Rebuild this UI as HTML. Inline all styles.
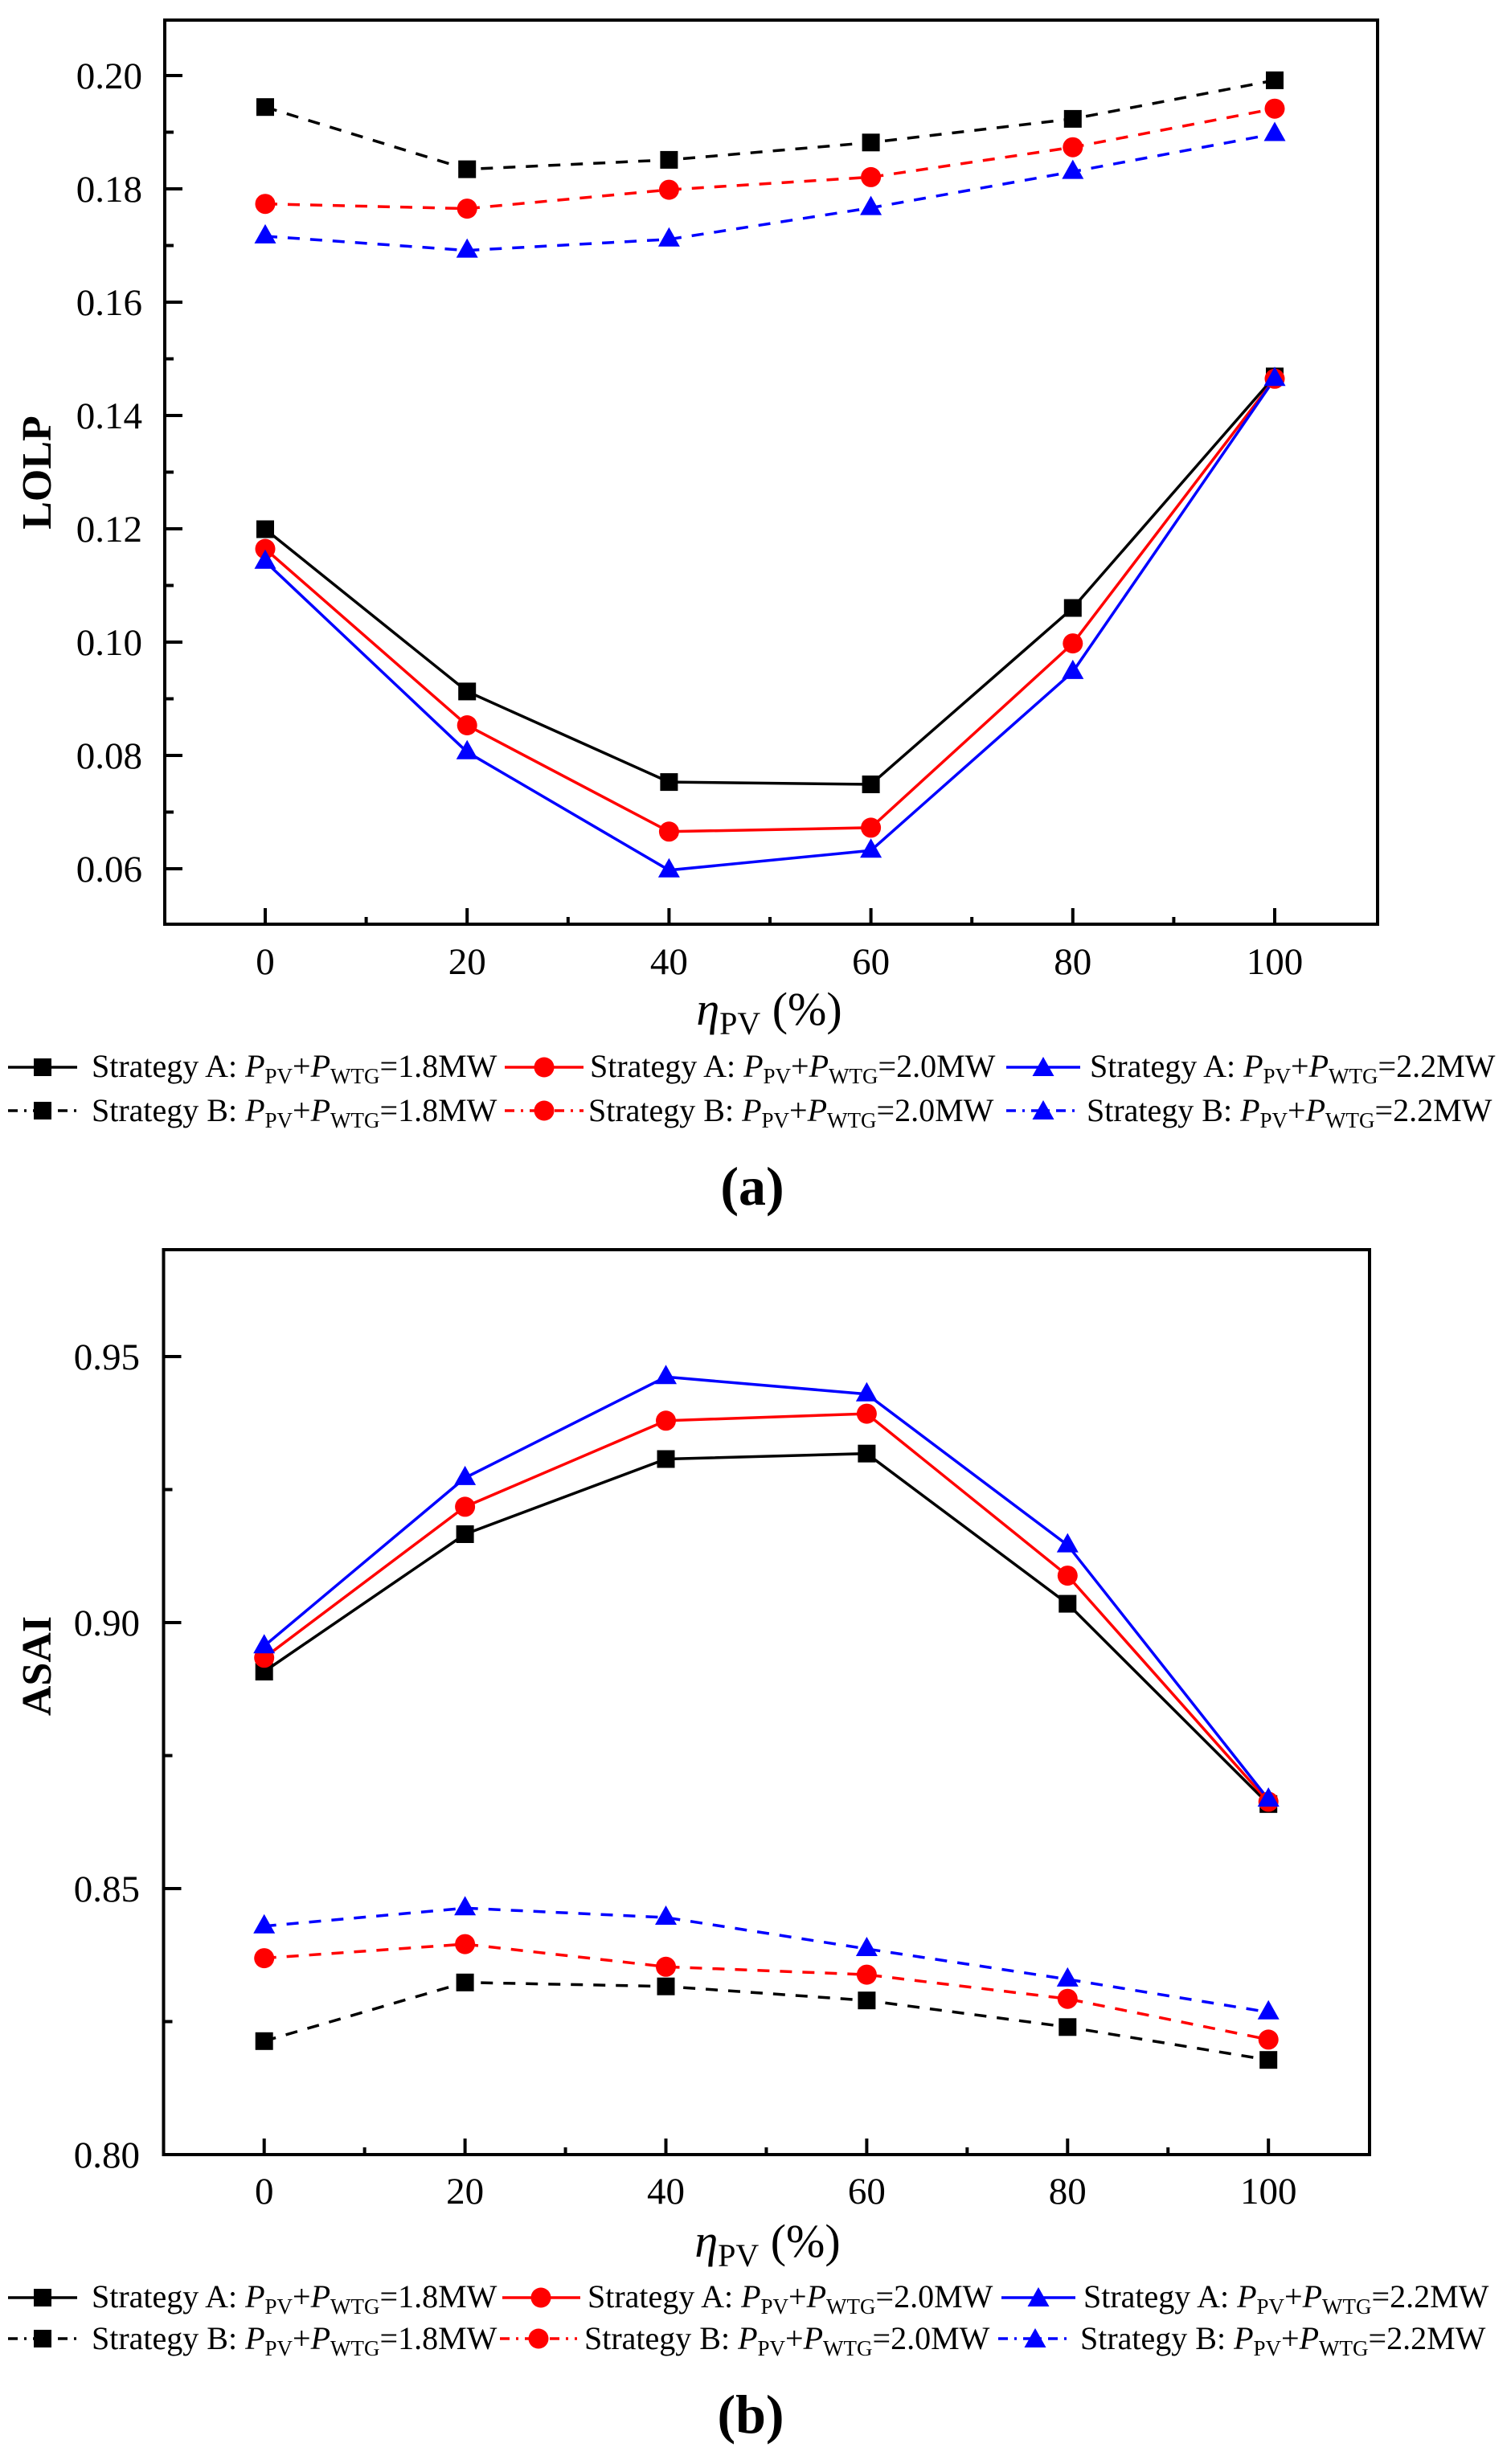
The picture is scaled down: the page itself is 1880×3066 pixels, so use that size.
<!DOCTYPE html>
<html><head><meta charset="utf-8"><style>
html,body{margin:0;padding:0;background:#fff;}
svg{display:block;font-family:"Liberation Serif",serif;}
</style></head><body>
<svg width="1880" height="3066" viewBox="0 0 1880 3066" xmlns="http://www.w3.org/2000/svg">
<defs>
<g id="sq"><rect x="-11" y="-11" width="22" height="22"/></g>
<g id="ci"><circle r="12.5"/></g>
<g id="tr"><polygon points="0,-15 -13.5,9 13.5,9"/></g>
</defs>

<!-- ===== TOP CHART ===== -->
<g stroke="#000" stroke-width="4" fill="none">
<rect x="205" y="25" width="1509" height="1125"/>
<path d="M205 94h22M205 235h22M205 376h22M205 517h22M205 658h22M205 799h22M205 940h22M205 1081h22
M205 164.5h11M205 305.5h11M205 446.5h11M205 587.5h11M205 728.5h11M205 869.5h11M205 1010.5h11"/>
<path d="M330 1150v-20M581.2 1150v-20M832.4 1150v-20M1083.6 1150v-20M1334.8 1150v-20M1586 1150v-20
M455.6 1150v-9M706.8 1150v-9M958 1150v-9M1209.2 1150v-9M1460.4 1150v-9"/>
</g>
<g font-size="47" text-anchor="end">
<text x="177" y="110">0.20</text><text x="177" y="251">0.18</text><text x="177" y="392">0.16</text>
<text x="177" y="533">0.14</text><text x="177" y="674">0.12</text><text x="177" y="815">0.10</text>
<text x="177" y="956">0.08</text><text x="177" y="1097">0.06</text>
</g>
<g font-size="47" text-anchor="middle">
<text x="330" y="1212">0</text><text x="581.2" y="1212">20</text><text x="832.4" y="1212">40</text>
<text x="1083.6" y="1212">60</text><text x="1334.8" y="1212">80</text><text x="1586" y="1212">100</text>
</g>
<text x="957" y="1275" font-size="58" text-anchor="middle"><tspan font-style="italic">η</tspan><tspan font-size="40" dy="12">PV</tspan><tspan dy="-12"> (%)</tspan></text>
<text transform="translate(63,588) rotate(-90)" font-size="52" font-weight="bold" text-anchor="middle">LOLP</text>

<g fill="none" stroke-width="3.5">
<polyline stroke="#000" stroke-dasharray="15 13" points="330,133.2 581.2,210.6 832.4,198.9 1083.6,177.3 1334.8,147.9 1586,99.9"/>
<polyline stroke="#f00" stroke-dasharray="15 13" points="330,253.7 581.2,259.6 832.4,236.1 1083.6,220.4 1334.8,183.2 1586,135.2"/>
<polyline stroke="#00f" stroke-dasharray="15 13" points="330,293.9 581.2,311.6 832.4,297.8 1083.6,258.6 1334.8,213.6 1586,166.5"/>
<polyline stroke="#000" points="330,658.5 581.2,860.4 832.4,973.1 1083.6,976 1334.8,756.5 1586,468.4"/>
<polyline stroke="#f00" points="330,683 581.2,902.5 832.4,1034.8 1083.6,1029.9 1334.8,800.6 1586,471.3"/>
<polyline stroke="#00f" points="330,698.7 581.2,935.8 832.4,1082.8 1083.6,1058.3 1334.8,835.9 1586,471.3"/>
</g>
<g fill="#000">
<use href="#sq" x="330" y="133.2"/><use href="#sq" x="581.2" y="210.6"/><use href="#sq" x="832.4" y="198.9"/><use href="#sq" x="1083.6" y="177.3"/><use href="#sq" x="1334.8" y="147.9"/><use href="#sq" x="1586" y="99.9"/>
<use href="#sq" x="330" y="658.5"/><use href="#sq" x="581.2" y="860.4"/><use href="#sq" x="832.4" y="973.1"/><use href="#sq" x="1083.6" y="976"/><use href="#sq" x="1334.8" y="756.5"/><use href="#sq" x="1586" y="468.4"/>
</g>
<g fill="#f00">
<use href="#ci" x="330" y="253.7"/><use href="#ci" x="581.2" y="259.6"/><use href="#ci" x="832.4" y="236.1"/><use href="#ci" x="1083.6" y="220.4"/><use href="#ci" x="1334.8" y="183.2"/><use href="#ci" x="1586" y="135.2"/>
<use href="#ci" x="330" y="683"/><use href="#ci" x="581.2" y="902.5"/><use href="#ci" x="832.4" y="1034.8"/><use href="#ci" x="1083.6" y="1029.9"/><use href="#ci" x="1334.8" y="800.6"/><use href="#ci" x="1586" y="471.3"/>
</g>
<g fill="#00f">
<use href="#tr" x="330" y="293.9"/><use href="#tr" x="581.2" y="311.6"/><use href="#tr" x="832.4" y="297.8"/><use href="#tr" x="1083.6" y="258.6"/><use href="#tr" x="1334.8" y="213.6"/><use href="#tr" x="1586" y="166.5"/>
<use href="#tr" x="330" y="698.7"/><use href="#tr" x="581.2" y="935.8"/><use href="#tr" x="832.4" y="1082.8"/><use href="#tr" x="1083.6" y="1058.3"/><use href="#tr" x="1334.8" y="835.9"/><use href="#tr" x="1586" y="471.3"/>
</g>

<!-- top legend -->
<g stroke-width="3.5" fill="none">
<path stroke="#000" d="M10 1328H96"/><path stroke="#f00" d="M628 1328H726"/><path stroke="#00f" d="M1252 1328H1344"/>
<path stroke="#000" stroke-dasharray="12 8 3 8" d="M10 1382H96"/><path stroke="#f00" stroke-dasharray="12 8 3 8" d="M628 1382H726"/><path stroke="#00f" stroke-dasharray="12 8 3 8" d="M1252 1382H1344"/>
</g>
<use href="#sq" x="53" y="1328" fill="#000"/><use href="#ci" x="677" y="1328" fill="#f00"/><use href="#tr" x="1298" y="1330" fill="#00f"/>
<use href="#sq" x="53" y="1382" fill="#000"/><use href="#ci" x="677" y="1382" fill="#f00"/><use href="#tr" x="1298" y="1384" fill="#00f"/>
<g font-size="40">
<text x="114" y="1340">Strategy A: <tspan font-style="italic">P</tspan><tspan font-size="27" dy="8">PV</tspan><tspan dy="-8">+</tspan><tspan font-style="italic">P</tspan><tspan font-size="27" dy="8">WTG</tspan><tspan dy="-8">=1.8MW</tspan></text>
<text x="734" y="1340">Strategy A: <tspan font-style="italic">P</tspan><tspan font-size="27" dy="8">PV</tspan><tspan dy="-8">+</tspan><tspan font-style="italic">P</tspan><tspan font-size="27" dy="8">WTG</tspan><tspan dy="-8">=2.0MW</tspan></text>
<text x="1356" y="1340">Strategy A: <tspan font-style="italic">P</tspan><tspan font-size="27" dy="8">PV</tspan><tspan dy="-8">+</tspan><tspan font-style="italic">P</tspan><tspan font-size="27" dy="8">WTG</tspan><tspan dy="-8">=2.2MW</tspan></text>
<text x="114" y="1395">Strategy B: <tspan font-style="italic">P</tspan><tspan font-size="27" dy="8">PV</tspan><tspan dy="-8">+</tspan><tspan font-style="italic">P</tspan><tspan font-size="27" dy="8">WTG</tspan><tspan dy="-8">=1.8MW</tspan></text>
<text x="732" y="1395">Strategy B: <tspan font-style="italic">P</tspan><tspan font-size="27" dy="8">PV</tspan><tspan dy="-8">+</tspan><tspan font-style="italic">P</tspan><tspan font-size="27" dy="8">WTG</tspan><tspan dy="-8">=2.0MW</tspan></text>
<text x="1352" y="1395">Strategy B: <tspan font-style="italic">P</tspan><tspan font-size="27" dy="8">PV</tspan><tspan dy="-8">+</tspan><tspan font-style="italic">P</tspan><tspan font-size="27" dy="8">WTG</tspan><tspan dy="-8">=2.2MW</tspan></text>
</g>
<text x="936" y="1499" font-size="68" font-weight="bold" text-anchor="middle">(a)</text>

<!-- ===== BOTTOM CHART ===== -->
<g stroke="#000" stroke-width="4" fill="none">
<rect x="203.5" y="1555" width="1500.5" height="1126"/>
<path d="M203.5 1688h22M203.5 2019h22M203.5 2350h22M203.5 1853.5h11M203.5 2184.5h11M203.5 2515.5h11"/>
<path d="M328.7 2681v-20M578.6 2681v-20M828.5 2681v-20M1078.4 2681v-20M1328.3 2681v-20M1578.2 2681v-20
M453.65 2681v-9M703.55 2681v-9M953.45 2681v-9M1203.35 2681v-9M1453.25 2681v-9"/>
</g>
<g font-size="47" text-anchor="end">
<text x="174" y="1704">0.95</text><text x="174" y="2035">0.90</text><text x="174" y="2366">0.85</text><text x="174" y="2697">0.80</text>
</g>
<g font-size="47" text-anchor="middle">
<text x="328.7" y="2742">0</text><text x="578.6" y="2742">20</text><text x="828.5" y="2742">40</text>
<text x="1078.4" y="2742">60</text><text x="1328.3" y="2742">80</text><text x="1578.2" y="2742">100</text>
</g>
<text x="955" y="2808" font-size="58" text-anchor="middle"><tspan font-style="italic">η</tspan><tspan font-size="40" dy="12">PV</tspan><tspan dy="-12"> (%)</tspan></text>
<text transform="translate(63,2073) rotate(-90)" font-size="52" font-weight="bold" text-anchor="middle">ASAI</text>

<g fill="none" stroke-width="3.5">
<polyline stroke="#000" stroke-dasharray="15 13" points="328.7,2539.8 578.6,2466.8 828.5,2471.7 1078.4,2489.2 1328.3,2522.3 1578.2,2563.2"/>
<polyline stroke="#f00" stroke-dasharray="15 13" points="328.7,2436.6 578.6,2419.1 828.5,2447.3 1078.4,2457.1 1328.3,2487.2 1578.2,2537.9"/>
<polyline stroke="#00f" stroke-dasharray="15 13" points="328.7,2396.7 578.6,2374.3 828.5,2386 1078.4,2425 1328.3,2462.9 1578.2,2503.8"/>
<polyline stroke="#000" points="328.7,2080 578.6,1909 828.5,1815.5 1078.4,1808.7 1328.3,1995.6 1578.2,2244.8"/>
<polyline stroke="#f00" points="328.7,2062.8 578.6,1874.9 828.5,1767.8 1078.4,1759.1 1328.3,1960.6 1578.2,2241.9"/>
<polyline stroke="#00f" points="328.7,2048.2 578.6,1838.9 828.5,1713.3 1078.4,1734.7 1328.3,1922.6 1578.2,2239"/>
</g>
<g fill="#000">
<use href="#sq" x="328.7" y="2539.8"/><use href="#sq" x="578.6" y="2466.8"/><use href="#sq" x="828.5" y="2471.7"/><use href="#sq" x="1078.4" y="2489.2"/><use href="#sq" x="1328.3" y="2522.3"/><use href="#sq" x="1578.2" y="2563.2"/>
<use href="#sq" x="328.7" y="2080"/><use href="#sq" x="578.6" y="1909"/><use href="#sq" x="828.5" y="1815.5"/><use href="#sq" x="1078.4" y="1808.7"/><use href="#sq" x="1328.3" y="1995.6"/><use href="#sq" x="1578.2" y="2244.8"/>
</g>
<g fill="#f00">
<use href="#ci" x="328.7" y="2436.6"/><use href="#ci" x="578.6" y="2419.1"/><use href="#ci" x="828.5" y="2447.3"/><use href="#ci" x="1078.4" y="2457.1"/><use href="#ci" x="1328.3" y="2487.2"/><use href="#ci" x="1578.2" y="2537.9"/>
<use href="#ci" x="328.7" y="2062.8"/><use href="#ci" x="578.6" y="1874.9"/><use href="#ci" x="828.5" y="1767.8"/><use href="#ci" x="1078.4" y="1759.1"/><use href="#ci" x="1328.3" y="1960.6"/><use href="#ci" x="1578.2" y="2241.9"/>
</g>
<g fill="#00f">
<use href="#tr" x="328.7" y="2396.7"/><use href="#tr" x="578.6" y="2374.3"/><use href="#tr" x="828.5" y="2386"/><use href="#tr" x="1078.4" y="2425"/><use href="#tr" x="1328.3" y="2462.9"/><use href="#tr" x="1578.2" y="2503.8"/>
<use href="#tr" x="328.7" y="2048.2"/><use href="#tr" x="578.6" y="1838.9"/><use href="#tr" x="828.5" y="1713.3"/><use href="#tr" x="1078.4" y="1734.7"/><use href="#tr" x="1328.3" y="1922.6"/><use href="#tr" x="1578.2" y="2239"/>
</g>

<!-- bottom legend -->
<g stroke-width="3.5" fill="none">
<path stroke="#000" d="M10 2859H96"/><path stroke="#f00" d="M625 2859H722"/><path stroke="#00f" d="M1246 2859H1338"/>
<path stroke="#000" stroke-dasharray="12 8 3 8" d="M10 2910H96"/><path stroke="#f00" stroke-dasharray="12 8 3 8" d="M622 2910H718"/><path stroke="#00f" stroke-dasharray="12 8 3 8" d="M1242 2910H1334"/>
</g>
<use href="#sq" x="53" y="2859" fill="#000"/><use href="#ci" x="673" y="2859" fill="#f00"/><use href="#tr" x="1292" y="2861" fill="#00f"/>
<use href="#sq" x="53" y="2910" fill="#000"/><use href="#ci" x="670" y="2910" fill="#f00"/><use href="#tr" x="1288" y="2912" fill="#00f"/>
<g font-size="40">
<text x="114" y="2871">Strategy A: <tspan font-style="italic">P</tspan><tspan font-size="27" dy="8">PV</tspan><tspan dy="-8">+</tspan><tspan font-style="italic">P</tspan><tspan font-size="27" dy="8">WTG</tspan><tspan dy="-8">=1.8MW</tspan></text>
<text x="731" y="2871">Strategy A: <tspan font-style="italic">P</tspan><tspan font-size="27" dy="8">PV</tspan><tspan dy="-8">+</tspan><tspan font-style="italic">P</tspan><tspan font-size="27" dy="8">WTG</tspan><tspan dy="-8">=2.0MW</tspan></text>
<text x="1348" y="2871">Strategy A: <tspan font-style="italic">P</tspan><tspan font-size="27" dy="8">PV</tspan><tspan dy="-8">+</tspan><tspan font-style="italic">P</tspan><tspan font-size="27" dy="8">WTG</tspan><tspan dy="-8">=2.2MW</tspan></text>
<text x="114" y="2923">Strategy B: <tspan font-style="italic">P</tspan><tspan font-size="27" dy="8">PV</tspan><tspan dy="-8">+</tspan><tspan font-style="italic">P</tspan><tspan font-size="27" dy="8">WTG</tspan><tspan dy="-8">=1.8MW</tspan></text>
<text x="727" y="2923">Strategy B: <tspan font-style="italic">P</tspan><tspan font-size="27" dy="8">PV</tspan><tspan dy="-8">+</tspan><tspan font-style="italic">P</tspan><tspan font-size="27" dy="8">WTG</tspan><tspan dy="-8">=2.0MW</tspan></text>
<text x="1344" y="2923">Strategy B: <tspan font-style="italic">P</tspan><tspan font-size="27" dy="8">PV</tspan><tspan dy="-8">+</tspan><tspan font-style="italic">P</tspan><tspan font-size="27" dy="8">WTG</tspan><tspan dy="-8">=2.2MW</tspan></text>
</g>
<text x="934" y="3027" font-size="68" font-weight="bold" text-anchor="middle">(b)</text>
</svg>
</body></html>
